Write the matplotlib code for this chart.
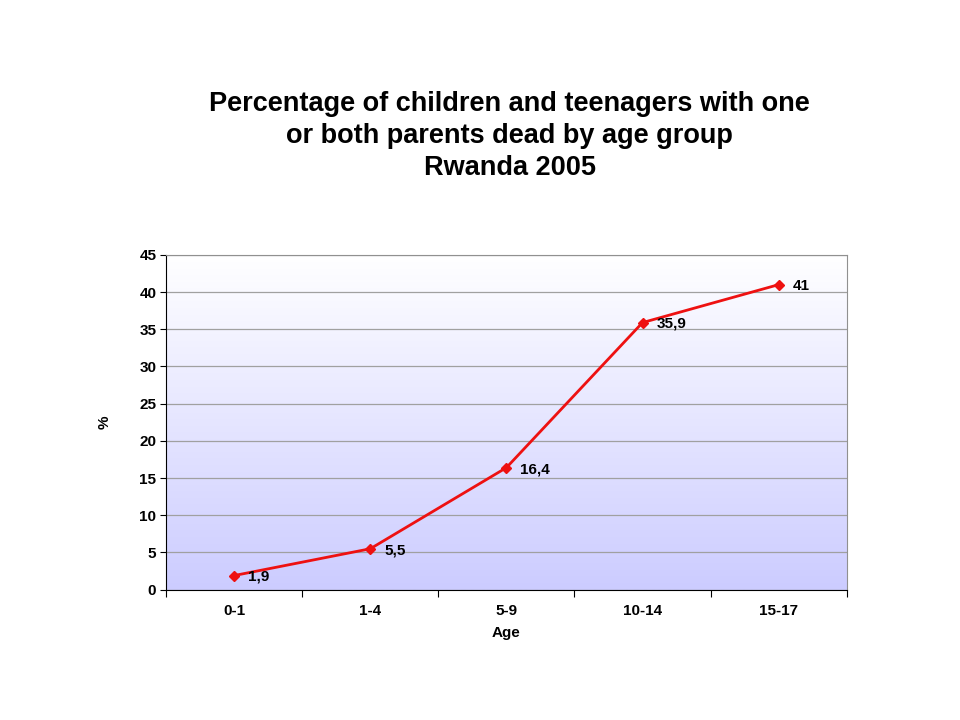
import matplotlib.pyplot as plt
import numpy as np

ages = ["0-1", "1-4", "5-9", "10-14", "15-17"]
pct = [1.9, 5.5, 16.4, 35.9, 41]
labels = ["1,9", "5,5", "16,4", "35,9", "41"]

plt.rcParams["font.family"] = ["Liberation Sans", "DejaVu Sans"]

fig = plt.figure(figsize=(9.6, 7.2), dpi=100)
ax = fig.add_axes([0.173, 0.181, 0.709, 0.465])

# gradient background: white at top, lavender at bottom
grad = np.linspace(0, 1, 256).reshape(-1, 1)
top = np.array([1.0, 1.0, 1.0])
bot = np.array([0.80, 0.80, 1.0])
img = top * (1 - grad[..., None]) + bot * grad[..., None]
img = img.reshape(256, 1, 3)
ax.imshow(img, extent=[0, 5, 0, 45], aspect="auto", zorder=0)

x = np.arange(len(ages)) + 0.5
ax.set_xlim(0, 5)
ax.set_ylim(0, 45)
ax.set_yticks(range(0, 50, 5))
ax.yaxis.grid(True, color="#a0a0a0", linewidth=0.9)
for gl in ax.get_ygridlines():
    gl.set_zorder(1)

ax.plot(x, pct, color="#ee1111", linewidth=2, marker="D", markersize=5, zorder=3)
for xi, yi, lab in zip(x, pct, labels):
    ax.annotate(lab, (xi, yi), xytext=(10, -1), textcoords="offset points",
                fontsize=11, fontweight="bold", ha="left", va="center", zorder=4)

ax.set_xticks(np.arange(0, 6))
ax.set_xticklabels([])
ax.set_xticks(x, minor=True)
ax.set_xticklabels(ages, minor=True)
ax.tick_params(axis="x", which="minor", length=0, pad=10, labelsize=11)
ax.tick_params(axis="x", which="major", length=5, direction="out")
ax.tick_params(axis="y", length=4, direction="out", labelsize=11, pad=3)
for t in ax.get_xticklabels(minor=True) + ax.get_yticklabels():
    t.set_fontweight("bold")

ax.set_xlabel("Age", fontsize=11, fontweight="bold", labelpad=6)
ax.set_ylabel("%", fontsize=11, fontweight="bold", labelpad=20)

for s in ["top", "right"]:
    ax.spines[s].set_color("#909090")
for s in ["left", "bottom"]:
    ax.spines[s].set_color("black")

fig.text(0.531, 0.811,
         "Percentage of children and teenagers with one\nor both parents dead by age group\nRwanda 2005",
         ha="center", va="center", fontsize=19.5, fontweight="bold", linespacing=1.3)

fig.savefig("out.png", dpi=100)
